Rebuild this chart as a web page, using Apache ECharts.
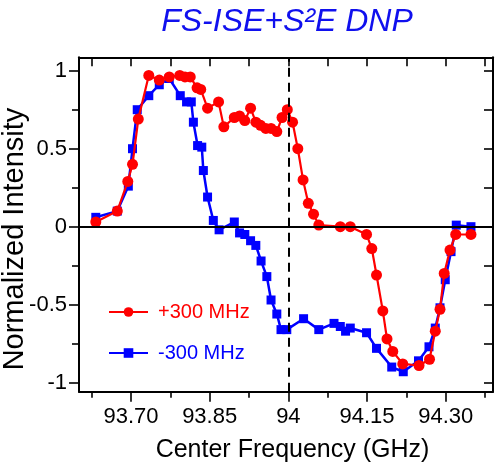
<!DOCTYPE html>
<html>
<head>
<meta charset="utf-8">
<script src="https://cdn.jsdelivr.net/npm/echarts@6/dist/echarts.min.js"></script>
<style>html,body{margin:0;padding:0;background:#fff;}#c{width:500px;height:472px;}</style>
</head>
<body>
<div id="c"></div>
<script>
// +300 MHz series (red circles)
const freqPlus = [93.633,93.674,93.694,93.703,93.714,93.734,93.754,93.773,93.793,93.803,93.813,93.826,93.833,93.846,93.867,93.877,93.897,93.907,93.917,93.928,93.938,93.947,93.957,93.967,93.978,93.988,93.998,94.008,94.018,94.028,94.038,94.048,94.058,94.099,94.118,94.149,94.159,94.168,94.180,94.188,94.199,94.218,94.249,94.269,94.280,94.289,94.297,94.308,94.319,94.348];
const valPlus  = [0.03,0.10,0.29,0.40,0.69,0.97,0.94,0.96,0.97,0.96,0.96,0.89,0.88,0.76,0.80,0.64,0.70,0.71,0.68,0.76,0.67,0.65,0.63,0.63,0.61,0.70,0.75,0.67,0.50,0.30,0.15,0.08,0.01,0.00,0.00,-0.05,-0.14,-0.31,-0.54,-0.72,-0.80,-0.88,-0.89,-0.85,-0.67,-0.53,-0.30,-0.15,-0.05,-0.05];
// -300 MHz series (blue squares)
const freqMinus = [93.633,93.674,93.695,93.703,93.712,93.734,93.754,93.773,93.794,93.806,93.815,93.819,93.827,93.835,93.838,93.846,93.857,93.868,93.897,93.907,93.917,93.928,93.938,93.948,93.959,93.967,93.978,93.986,93.997,94.029,94.058,94.087,94.099,94.109,94.118,94.149,94.168,94.197,94.219,94.248,94.268,94.280,94.289,94.299,94.310,94.320,94.348];
const valMinus  = [0.06,0.10,0.26,0.50,0.75,0.84,0.91,0.95,0.84,0.80,0.80,0.67,0.52,0.51,0.36,0.19,0.04,-0.02,0.03,-0.04,-0.05,-0.09,-0.12,-0.22,-0.32,-0.47,-0.56,-0.66,-0.66,-0.59,-0.66,-0.62,-0.64,-0.67,-0.65,-0.68,-0.78,-0.90,-0.93,-0.86,-0.77,-0.65,-0.52,-0.34,-0.16,0.01,0.00];

// axis ticks & labels
const xMajorTicks = [93.70, 93.85, 94.00, 94.15, 94.30];
const xTickLabels = ['93.70', '93.85', '94', '94.15', '94.30'];
const xMinorTicks = [93.625, 93.775, 93.925, 94.075, 94.225, 94.375];
const yMajorTicks = [-1, -0.5, 0, 0.5, 1];
const yTickLabels = ['-1', '-0.5', '0', '0.5', '1'];
const yMinorTicks = [-0.75, -0.25, 0.25, 0.75];
const xRange = [93.601, 94.390];
const yRange = [-1.058, 1.086];
const centerLine = 94;

const seriesNames = ['+300 MHz', '-300 MHz'];
const titleText = 'FS-ISE+S²E DNP';

const zip = (a, b) => a.map((v, i) => [v, b[i]]);
const allX = xMajorTicks.concat(xMinorTicks).sort((a, b) => a - b);
const allY = yMajorTicks.concat(yMinorTicks).sort((a, b) => a - b);
const FONT = 'Liberation Sans, Arial, Helvetica, sans-serif';

const chart = echarts.init(document.getElementById('c'));
const baseX = { type: 'value', min: xRange[0], max: xRange[1], splitLine: { show: false } };
const baseY = { type: 'value', min: yRange[0], max: yRange[1], splitLine: { show: false } };
chart.setOption({
  animation: false,
  backgroundColor: '#fff',
  title: {
    text: titleText, left: 282, textAlign: 'center', top: 1,
    textStyle: { color: '#1010ee', fontStyle: 'italic', fontWeight: 'normal', fontSize: 32, fontFamily: FONT }
  },
  grid: { left: 79, right: 7, top: 57.3, bottom: 80.3, containLabel: false, outerBoundsMode: 'none' },
  legend: {
    orient: 'vertical', left: 108, top: 302, padding: 0, itemWidth: 39, itemHeight: 12, itemGap: 21,
    textStyle: { fontSize: 20, fontFamily: FONT, padding: [0, 0, 0, 5] },
    data: [
      { name: seriesNames[0], textStyle: { color: '#ff0000' } },
      { name: seriesNames[1], textStyle: { color: '#0000ff' } }
    ]
  },
  xAxis: [
    Object.assign({}, baseX, {
      position: 'bottom',
      name: 'Center Frequency (GHz)', nameLocation: 'middle', nameGap: 46, nameMoveOverlap: false,
      nameTextStyle: { fontSize: 25, color: '#000', fontFamily: FONT, padding: [0, 0, 0, 13] },
      axisLine: { show: true, onZero: false, lineStyle: { color: '#000', width: 2 } },
      axisTick: { show: true, inside: false, length: 10, customValues: xMajorTicks, lineStyle: { color: '#000', width: 1.6 } },
      axisLabel: { show: true, margin: 14, fontSize: 22, color: '#000', fontFamily: FONT, customValues: xMajorTicks,
        formatter: v => { const i = xMajorTicks.findIndex(t => Math.abs(t - v) < 1e-6); return i >= 0 ? xTickLabels[i] : ''; } }
    }),
    Object.assign({}, baseX, {
      position: 'bottom',
      axisLine: { show: false, onZero: false },
      axisTick: { show: true, inside: false, length: 6, customValues: xMinorTicks, lineStyle: { color: '#000', width: 1.6 } },
      axisLabel: { show: false }
    }),
    Object.assign({}, baseX, {
      position: 'top',
      axisLine: { show: true, onZero: false, lineStyle: { color: '#000', width: 2 } },
      axisTick: { show: true, inside: true, length: 9, customValues: allX, lineStyle: { color: '#000', width: 1.6 } },
      axisLabel: { show: false }
    })
  ],
  yAxis: [
    Object.assign({}, baseY, {
      position: 'left',
      name: 'Normalized Intensity', nameLocation: 'middle', nameGap: 50, nameRotate: 90, nameMoveOverlap: false,
      nameTextStyle: { fontSize: 29, color: '#000', fontFamily: FONT, padding: [0, 29, 0, 0] },
      axisLine: { show: true, onZero: false, lineStyle: { color: '#000', width: 2 } },
      axisTick: { show: true, inside: false, length: 10, customValues: yMajorTicks, lineStyle: { color: '#000', width: 1.6 } },
      axisLabel: { show: true, margin: 12, fontSize: 22, color: '#000', fontFamily: FONT, customValues: yMajorTicks,
        formatter: v => { const i = yMajorTicks.findIndex(t => Math.abs(t - v) < 1e-6); return i >= 0 ? yTickLabels[i] : ''; } }
    }),
    Object.assign({}, baseY, {
      position: 'left',
      axisLine: { show: false, onZero: false },
      axisTick: { show: true, inside: false, length: 7, customValues: yMinorTicks, lineStyle: { color: '#000', width: 1.6 } },
      axisLabel: { show: false }
    }),
    Object.assign({}, baseY, {
      position: 'right',
      axisLine: { show: true, onZero: false, lineStyle: { color: '#000', width: 2 } },
      axisTick: { show: true, inside: true, length: 9, customValues: allY, lineStyle: { color: '#000', width: 1.6 } },
      axisLabel: { show: false }
    })
  ],
  series: [
    {
      name: seriesNames[1], type: 'line', xAxisIndex: 0, yAxisIndex: 0,
      data: zip(freqMinus, valMinus),
      symbol: 'rect', symbolSize: 9, showAllSymbol: true,
      itemStyle: { color: '#0000ff' }, lineStyle: { color: '#0000ff', width: 2.5 },
      z: 3,
      markLine: {
        silent: true, symbol: ['none', 'none'], label: { show: false }, animation: false,
        data: [
          { yAxis: 0, lineStyle: { color: '#000', width: 2, type: 'solid' } },
          { xAxis: centerLine, lineStyle: { color: '#000', width: 2, type: [9, 6] } }
        ]
      }
    },
    {
      name: seriesNames[0], type: 'line', xAxisIndex: 0, yAxisIndex: 0,
      data: zip(freqPlus, valPlus),
      symbol: 'circle', symbolSize: 11, showAllSymbol: true,
      itemStyle: { color: '#ff0000' }, lineStyle: { color: '#ff0000', width: 2.2 },
      z: 4
    }
  ]
});
</script>
</body>
</html>
